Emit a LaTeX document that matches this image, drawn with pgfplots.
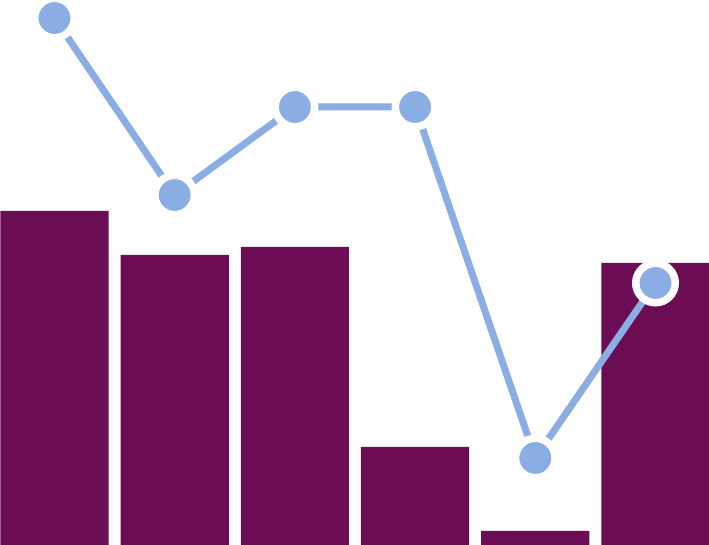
\documentclass[border=0pt]{standalone}
\usepackage{pgfplots}
\pgfplotsset{compat=1.18}
\definecolor{barpurple}{HTML}{6B0C55}
\definecolor{lineblue}{HTML}{8AADE3}
\begin{document}
\begin{tikzpicture}
\begin{axis}[
  scale only axis,
  width=709bp, height=545bp,
  hide axis,
  xmin=-0.453, xmax=5.445,
  ymin=0, ymax=545,
  clip=false,
]
\addplot[ybar, bar width=0.9, fill=barpurple, draw=none, bar shift=0pt]
  coordinates {(0,334) (1,290) (2,298) (3,98) (4,14) (5,282)};
\addplot[lineblue, line width=7bp, mark=*, mark size=19.75bp,
  mark options={fill=lineblue, draw=white, line width=7.5bp}]
  coordinates {(0,527) (1,350) (2,438) (3,438) (4,87) (5,262)};
\end{axis}
\pgfresetboundingbox
\useasboundingbox (current axis.south west) rectangle (current axis.north east);
\end{tikzpicture}
\end{document}
